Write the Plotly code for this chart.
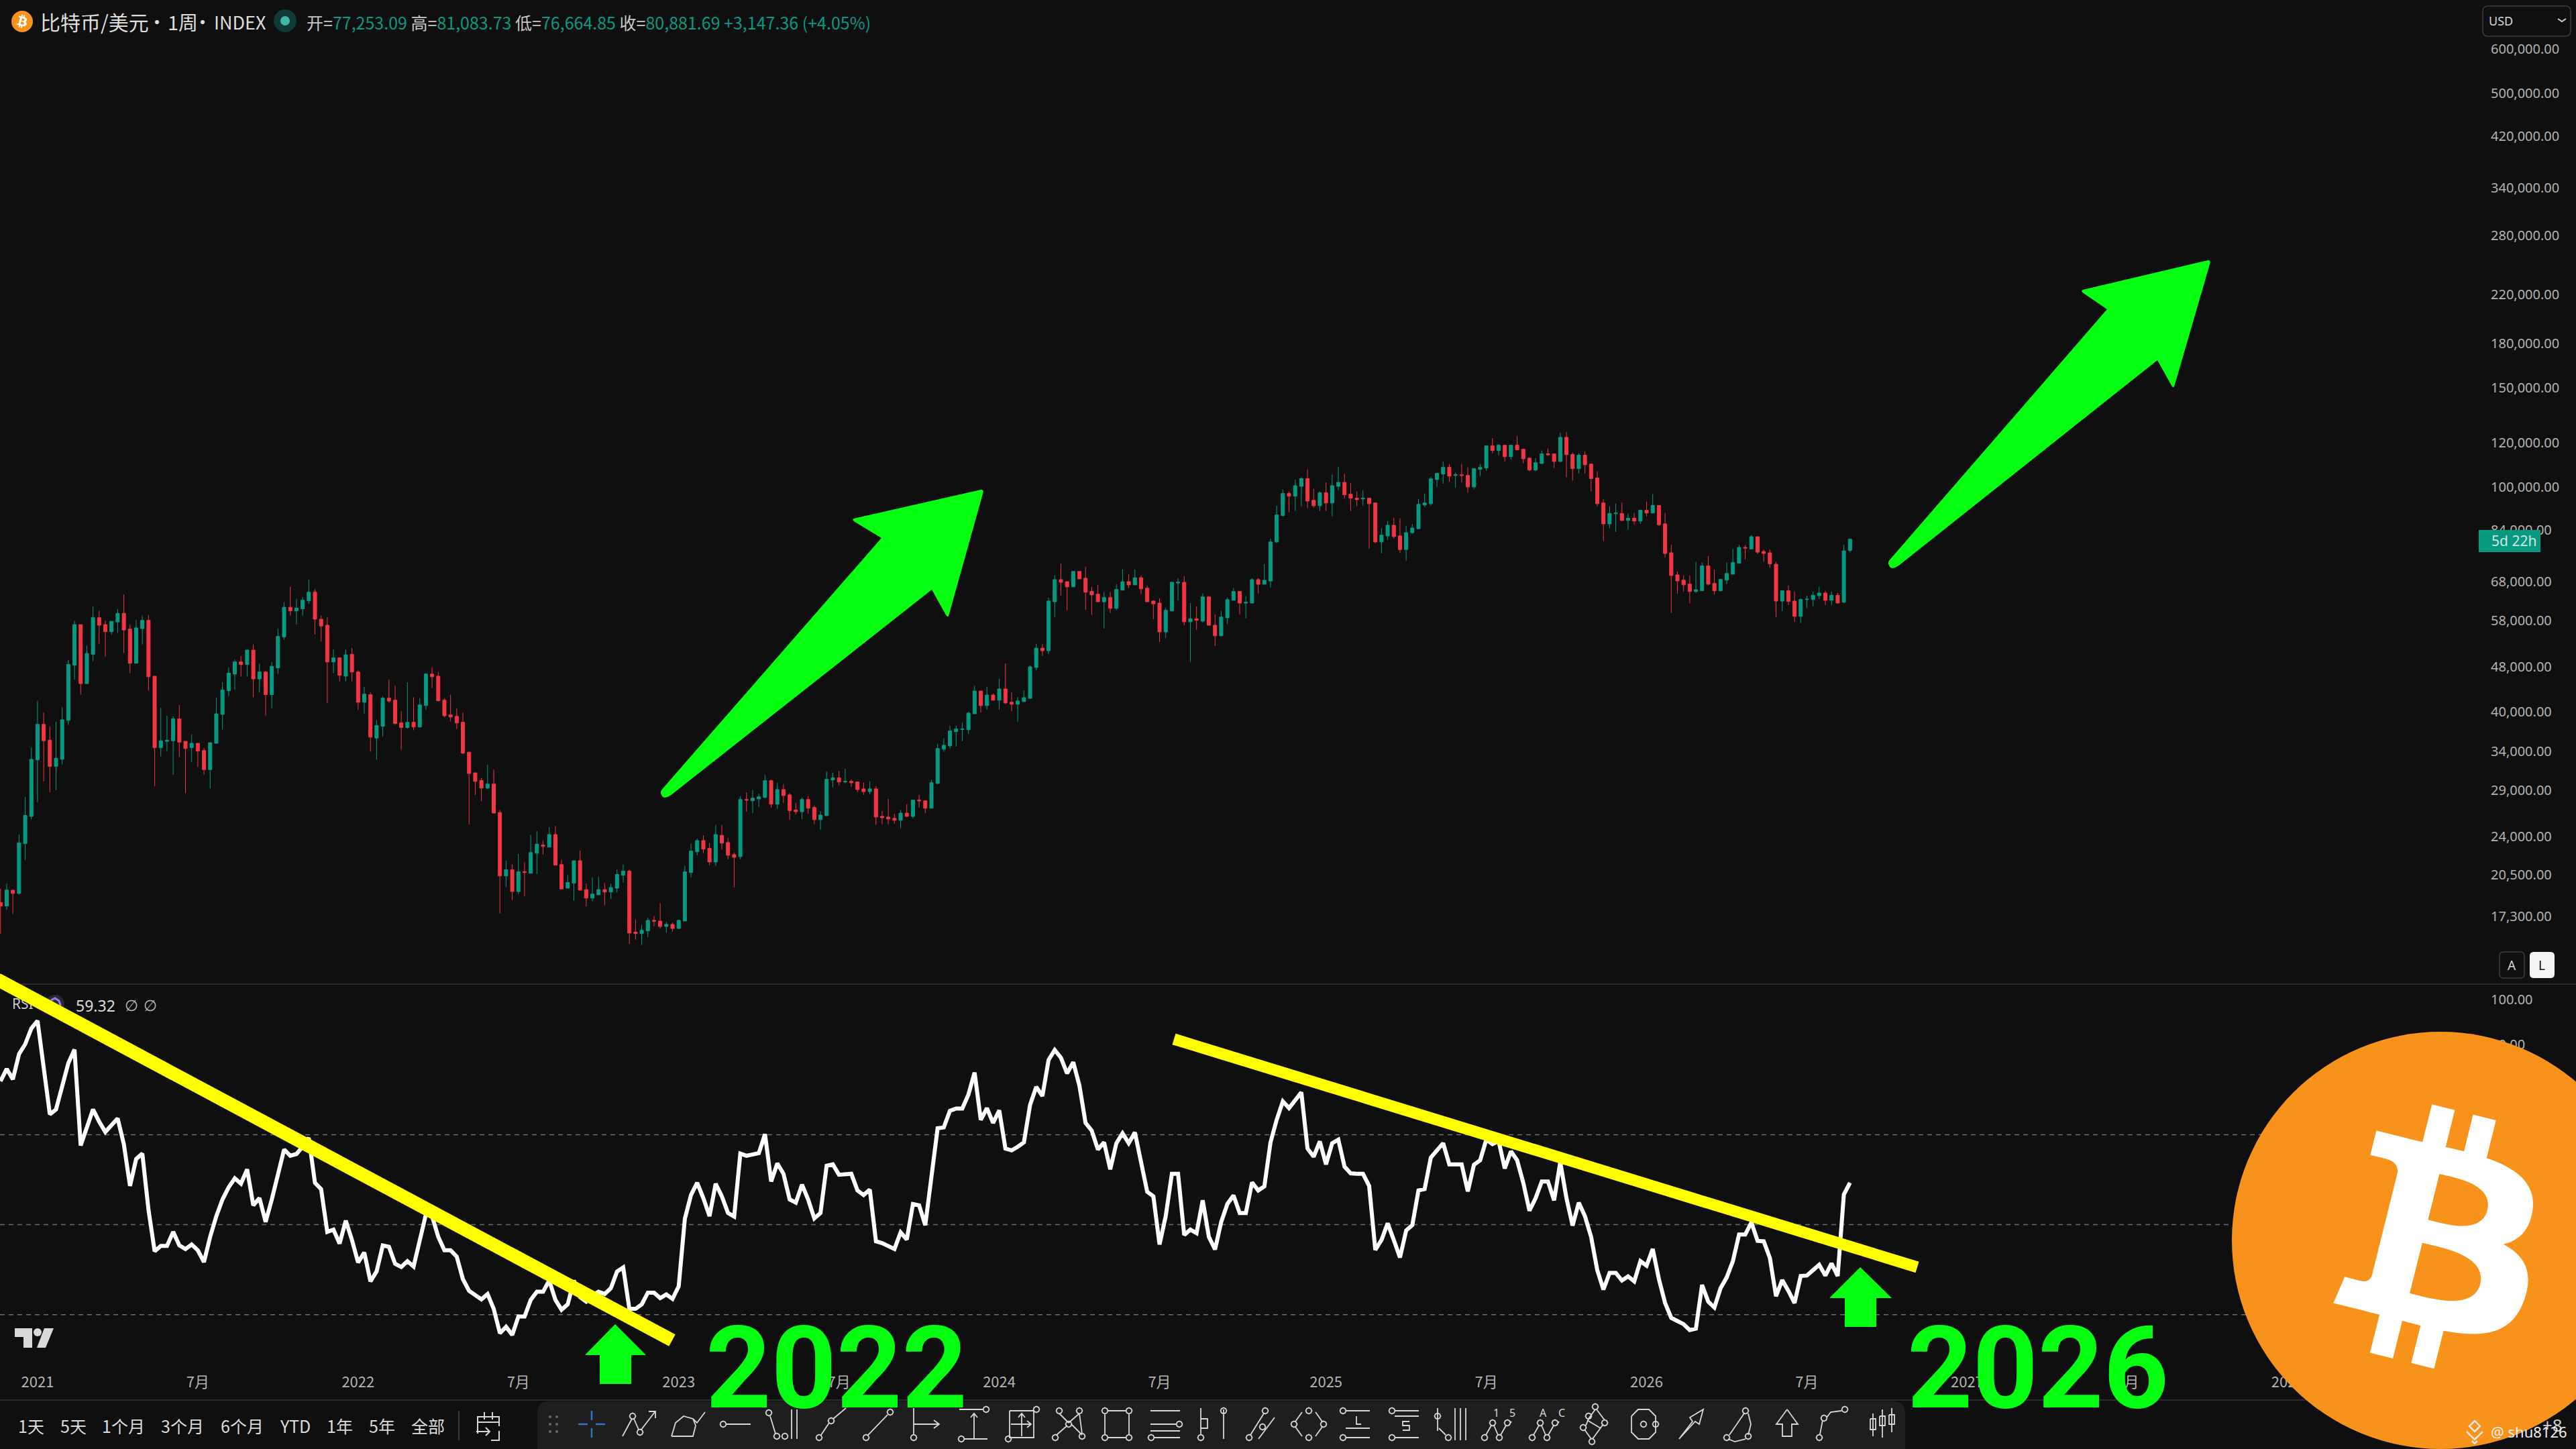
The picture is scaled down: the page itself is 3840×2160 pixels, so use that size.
import re
import pandas as pd
import plotly.graph_objects as go

W, H = 3840, 2160
BG = "#0f0f0f"
UP = "#089981"
DOWN = "#f23645"
NEON = "#05ff10"
ORANGE = "#f7931a"
CJK = "Noto Sans CJK SC"

# weekly candles, prices in thousand USD
opens_k = [18.33,18.07,19.26,19.02,23.31,26.06,32.82,37.95,35.58,31.97,
32.90,38.58,48.31,57.04,44.82,50.53,58.68,57.04,55.44,57.67,
59.69,56.02,48.71,56.14,58.04,46.21,34.50,35.41,35.49,38.81,
35.41,34.50,35.13,34.10,31.55,35.13,39.53,43.56,46.61,48.98,
48.48,51.40,45.69,47.00,42.85,47.80,54.22,61.21,60.34,60.85,
62.87,65.11,58.32,56.91,48.98,49.79,46.21,50.53,47.00,41.53,
42.85,35.89,37.64,42.24,41.89,38.18,37.46,38.27,37.55,40.98,
46.61,46.21,41.89,39.44,39.21,38.27,33.86,31.13,30.17,29.25,
29.74,26.47,20.43,20.95,19.17,20.78,20.65,22.42,23.17,22.98,
24.20,21.40,19.43,19.84,21.74,19.32,18.66,18.91,19.32,19.13,
19.43,20.50,20.83,16.24,16.14,16.32,17.04,16.99,16.62,16.76,
16.48,16.99,20.72,22.55,23.61,22.86,21.63,24.12,23.42,22.29,
22.11,27.92,27.77,27.99,28.15,30.15,27.39,29.08,28.45,26.75,
26.56,27.92,27.02,25.71,26.13,30.24,30.49,29.99,30.07,29.99,
29.16,28.83,29.16,26.06,25.99,25.85,25.64,26.41,26.06,27.85,
27.77,26.94,29.82,34.29,34.75,36.84,37.16,37.12,39.62,43.49,
40.97,42.78,41.88,43.86,41.54,41.20,41.65,42.22,47.88,51.82,
51.27,62.63,68.56,67.98,66.55,70.90,68.95,65.31,64.60,62.63,
63.70,60.96,65.66,67.98,67.09,69.10,66.20,62.81,62.28,55.38,
60.31,67.62,67.80,57.71,58.42,57.89,63.88,56.89,54.50,58.66,
62.99,65.31,62.28,62.28,68.56,67.27,68.17,79.97,89.05,97.47,
96.42,100.38,103.56,94.77,92.74,97.74,93.78,100.38,101.99,97.21,
95.60,95.33,95.60,93.78,79.96,81.96,85.60,81.96,77.52,83.07,
84.40,92.99,93.50,103.17,105.52,108.46,104.93,105.20,104.93,100.12,
107.58,108.17,118.40,116.16,118.70,113.30,118.70,116.80,112.60,107.30,
110.20,114.60,114.60,111.10,122.60,114.30,107.90,114.00,109.90,103.85,
93.80,86.10,89.80,89.80,87.30,88.10,87.10,91.00,90.00,92.80,
86.10,76.50,69.90,68.40,67.30,65.30,65.50,72.50,67.50,65.50,
68.40,70.10,73.30,78.20,77.70,81.70,76.90,76.50,73.00,62.80,
65.50,62.80,59.00,63.20,63.20,64.20,64.90,63.00,64.30,62.50,77.25309]

highs_k = [19.39,19.81,19.35,24.20,28.19,34.53,41.79,39.84,37.64,38.36,
40.73,49.39,57.97,57.04,52.36,61.50,60.34,57.97,57.82,60.78,
64.54,57.11,58.11,59.19,59.33,46.21,40.63,39.30,39.21,41.08,
35.41,36.43,35.13,34.46,35.21,42.34,45.07,47.91,49.51,50.19,
51.59,52.62,48.60,47.23,48.94,56.08,62.51,66.57,63.37,63.80,
68.53,66.00,59.19,58.83,51.59,49.91,51.53,51.85,47.35,44.21,
43.30,38.58,42.55,45.58,44.46,40.02,45.07,42.39,42.24,46.78,
47.91,47.00,42.24,42.85,40.52,39.84,34.02,31.13,30.49,32.19,
31.55,26.75,21.74,21.40,22.34,21.59,24.15,24.54,23.59,24.93,
25.05,21.82,20.50,21.74,22.67,19.81,20.33,20.38,19.84,19.81,
21.00,21.40,20.95,17.10,16.73,17.22,17.35,18.29,16.95,16.90,
17.09,21.29,23.30,23.80,24.12,23.36,25.16,25.16,23.86,22.48,
28.30,28.75,28.99,28.60,30.90,30.32,29.90,29.73,28.67,27.54,
28.15,28.30,27.24,26.63,31.31,31.15,31.40,31.65,30.32,29.99,
29.90,30.07,29.49,26.63,27.99,26.33,26.75,27.39,27.92,28.45,
27.85,30.24,35.05,35.84,37.73,37.73,38.26,39.92,44.47,43.49,
44.25,43.08,45.72,48.70,43.24,42.44,43.61,48.28,52.71,52.71,
63.70,69.73,73.25,67.98,70.90,70.90,72.27,66.55,67.09,65.13,
65.13,67.27,71.45,70.09,71.45,69.73,66.91,62.99,63.52,61.12,
67.98,68.95,69.54,62.28,61.45,64.77,64.06,59.49,60.31,63.70,
66.20,65.31,64.06,68.95,68.95,73.05,81.04,92.70,99.06,98.27,
103.17,104.15,107.58,99.30,98.27,101.99,105.32,108.76,105.62,101.70,
98.27,98.80,95.60,93.78,84.60,87.10,88.30,88.06,85.36,86.05,
95.24,97.47,104.35,106.10,111.10,109.93,106.11,109.93,108.46,107.87,
109.93,118.70,122.20,119.30,118.70,118.70,123.30,116.80,113.00,112.60,
116.20,117.10,114.60,125.00,125.40,115.20,114.90,115.80,109.90,106.70,
95.20,92.50,93.50,94.00,89.80,90.00,91.30,94.30,97.20,92.80,
90.00,79.00,70.90,69.70,69.70,73.70,73.50,75.50,71.40,68.80,
73.50,77.70,79.00,79.00,82.20,81.70,77.50,77.50,73.70,65.50,
66.90,65.30,63.50,64.20,65.30,66.60,65.50,65.30,64.90,79.00,81.08373]

lows_k = [16.14,17.78,17.50,18.93,21.82,25.75,27.60,30.06,28.75,29.00,
32.23,37.86,45.58,42.85,44.82,49.11,52.75,50.08,54.73,55.12,
50.82,46.78,48.71,52.62,43.56,29.50,33.30,34.02,30.88,33.18,
28.65,32.55,31.89,30.88,29.21,35.05,37.15,42.60,43.71,46.10,
46.15,42.39,43.20,39.35,40.52,46.61,53.65,59.19,57.04,59.19,
62.14,54.80,53.20,41.43,46.78,45.25,45.25,45.25,40.27,39.66,
33.94,32.82,36.11,41.48,37.86,34.22,37.28,37.06,37.42,40.27,
44.01,41.69,39.03,38.40,37.24,33.58,25.22,28.43,27.73,29.11,
26.41,17.52,19.52,18.51,18.97,18.82,20.65,20.60,22.31,22.98,
21.35,19.37,19.43,18.47,19.21,18.05,18.42,18.91,18.11,18.58,
19.08,19.89,15.48,15.75,15.41,15.91,16.63,16.48,16.22,16.27,
16.48,16.99,20.31,22.23,22.42,21.34,21.29,22.76,21.86,19.49,
21.86,26.56,26.41,27.09,28.07,27.00,26.87,27.54,25.71,26.26,
25.78,26.33,25.23,24.68,26.13,29.33,29.58,29.82,29.41,28.75,
28.45,28.53,25.16,25.23,25.23,25.30,24.82,25.99,25.85,27.02,
26.41,26.94,29.73,33.92,34.38,34.65,35.42,36.51,39.62,39.85,
40.30,41.88,40.30,41.20,40.07,38.36,41.65,42.10,47.33,50.18,
50.59,58.84,64.24,60.47,66.55,68.76,60.63,59.33,62.63,56.13,
59.82,60.47,65.66,66.20,67.09,64.60,62.63,58.31,53.16,54.05,
60.31,62.99,56.89,48.96,55.83,57.54,56.89,52.27,54.35,57.21,
62.99,59.49,58.50,62.28,64.77,67.27,66.38,79.70,88.80,90.28,
90.77,92.52,91.75,92.00,90.77,90.77,88.80,98.80,95.60,90.77,
92.52,92.74,77.74,79.50,76.30,80.60,81.07,76.50,74.10,82.63,
84.40,92.24,92.74,100.12,101.44,102.28,99.85,101.99,97.74,99.06,
104.64,107.00,114.90,113.90,111.10,112.00,116.20,110.20,106.70,106.70,
109.90,113.60,108.20,110.80,104.15,102.70,105.80,105.80,98.30,92.50,
80.20,84.60,83.30,87.10,84.00,85.80,86.10,88.80,89.80,85.40,
75.10,59.80,64.70,65.30,62.20,64.90,65.50,66.90,64.50,65.30,
67.30,70.10,73.30,74.50,77.70,76.10,73.70,71.90,58.80,60.30,
61.80,57.70,57.40,61.00,61.50,63.30,61.80,61.80,62.20,62.30,76.66485]

closes_k = [18.07,19.28,19.02,23.37,26.16,32.90,37.95,35.49,31.97,33.02,
38.67,48.48,57.04,44.82,50.70,58.68,56.91,55.44,57.82,59.69,
55.82,48.71,56.27,58.04,46.10,34.50,35.49,35.57,38.81,35.29,
34.38,35.13,34.02,31.55,35.21,39.62,43.66,46.78,48.98,48.48,
51.40,45.69,47.00,42.85,48.09,54.35,61.21,60.34,61.00,63.01,
65.11,58.32,56.72,48.98,49.79,46.38,50.42,47.00,41.53,42.95,
36.02,37.78,42.24,41.74,38.09,37.46,38.27,37.55,41.08,46.61,
46.10,41.79,39.30,39.12,38.18,33.74,31.05,30.06,29.25,29.74,
26.41,20.43,20.95,19.17,20.78,20.73,22.48,23.26,23.06,24.20,
21.35,19.37,19.89,21.74,19.28,18.66,18.97,19.32,19.13,19.48,
20.55,20.83,16.18,16.14,16.36,17.04,16.98,16.62,16.76,16.48,
17.04,20.77,22.61,23.61,22.80,21.63,24.19,23.36,22.23,22.05,
27.92,27.85,28.07,28.23,30.15,27.39,29.08,28.38,26.68,26.56,
27.92,26.94,25.71,26.20,30.32,30.49,29.99,30.07,29.90,29.08,
28.83,29.16,25.99,25.92,25.78,25.64,26.41,26.06,27.85,27.77,
26.94,29.90,34.38,34.85,36.94,37.24,37.23,39.74,43.49,40.97,
42.78,41.88,43.86,41.43,41.20,41.76,42.33,48.01,51.82,51.27,
62.81,68.56,67.80,66.55,70.90,68.76,65.13,64.42,62.63,63.70,
60.96,65.84,67.98,67.09,69.10,66.02,62.63,62.10,55.38,60.47,
67.80,67.80,57.71,58.42,58.07,63.88,56.89,54.50,58.84,63.17,
65.31,62.28,62.46,68.56,67.27,68.37,79.97,89.29,97.47,96.42,
100.64,103.56,94.49,92.74,97.74,93.78,100.64,101.99,96.95,95.60,
95.06,95.60,93.50,79.96,82.20,85.60,81.74,77.52,83.07,84.63,
93.25,93.78,103.46,105.82,108.46,104.64,105.20,104.93,100.12,107.87,
108.46,118.40,116.16,118.70,113.30,118.70,116.50,112.30,107.30,110.50,
114.60,114.20,111.10,122.60,114.30,107.90,114.00,109.60,103.60,93.50,
86.10,89.80,90.00,87.30,88.10,87.10,91.00,90.00,92.80,85.80,
76.30,69.70,68.20,67.10,65.30,65.80,72.50,67.30,65.50,68.60,
70.30,73.50,78.20,78.00,81.70,76.70,76.30,73.10,62.80,65.50,
62.70,59.00,63.20,63.30,64.30,64.90,63.00,64.30,62.30,77.10,80.88169]

rsi_values = [81.9,84.6,82.3,87.9,90.1,93.6,95.3,85.3,74.5,75.6,
80.6,85.9,88.9,67.6,71.6,75.6,72.9,70.6,72.1,73.6,
67.9,58.6,64.6,65.8,53.3,44.1,45.3,45.3,48.4,45.4,
44.6,45.6,44.3,41.7,47.3,51.9,55.6,58.3,60.3,59.1,
62.3,54.3,55.9,50.6,55.6,61.3,66.7,65.3,65.7,67.3,
69.3,59.3,57.9,48.4,48.9,45.8,50.9,46.6,41.6,43.8,
37.4,39.6,45.4,45.1,41.3,40.6,41.9,40.7,46.3,52.3,
51.9,47.3,44.3,44.3,42.9,37.9,35.3,34.3,33.4,34.6,
31.3,25.9,27.3,25.5,29.6,29.6,33.3,35.1,35.1,37.6,
33.3,31.1,32.3,37.6,33.9,32.9,34.3,35.1,34.6,35.9,
39.6,40.5,31.3,31.3,32.3,34.9,34.9,33.7,34.5,33.5,
36.3,51.3,56.6,59.3,55.9,51.9,59.1,56.3,52.6,51.8,
65.8,65.3,65.6,65.9,70.1,59.6,63.6,61.3,55.6,54.9,
58.9,55.6,51.4,52.6,63.1,63.4,61.1,61.3,61.3,57.6,
56.6,57.8,46.3,45.9,45.3,44.6,48.3,46.7,54.6,54.3,
49.9,60.6,71.4,71.6,75.3,75.8,75.8,78.9,83.8,73.3,
75.9,72.6,75.4,66.9,66.5,67.3,68.3,76.6,80.6,78.6,
86.6,88.8,87.1,83.6,86.1,80.9,72.6,70.9,66.7,68.3,
62.3,68.1,70.3,68.1,70.5,63.9,57.3,56.3,45.6,51.9,
61.3,61.3,47.7,48.9,48.1,55.4,47.3,44.5,50.6,54.6,
56.5,52.6,52.6,59.4,57.6,58.5,68.3,73.3,77.4,75.9,
77.6,79.4,66.9,65.1,68.5,63.4,68.1,68.9,62.9,61.4,
61.3,61.3,58.6,44.4,46.6,50.3,46.6,42.7,48.7,49.9,
57.6,57.9,64.9,66.6,68.1,63.4,63.4,63.4,57.4,63.3,
64.3,68.9,67.9,68.6,62.5,66.3,64.3,59.3,53.1,55.9,
59.6,59.6,55.4,63.9,55.9,49.8,54.9,51.9,47.3,39.9,
35.6,39.3,39.3,37.6,38.5,37.4,41.9,40.9,44.6,37.9,
32.6,29.3,28.6,27.9,26.6,26.9,36.6,32.9,31.6,35.9,
38.3,41.9,47.8,47.8,50.5,46.4,46.3,42.6,34.1,37.7,
35.3,32.6,38.6,38.7,39.9,41.1,38.7,41.4,38.6,56.7,59.32]

price_ticks = [600000,500000,420000,340000,280000,220000,180000,150000,120000,100000,
               84000,68000,58000,48000,40000,34000,29000,24000,20500,17300]
rsi_ticks = [100,90,80,70,60,50,40,30,20]
rsi_levels = [70,50,30]
time_ticks = ["2021-01-04","2021-07-05","2022-01-03","2022-07-04","2023-01-02","2023-07-03",
              "2024-01-01","2024-07-01","2025-01-06","2025-07-07","2026-01-05","2026-07-06",
              "2027-01-04","2027-07-05","2028-01-03","2028-07-03"]
time_labels = ["2021","7月","2022","7月","2023","7月","2024","7月","2025","7月","2026","7月",
               "2027","7月","2028","7月"]

first_week = pd.Timestamp("2020-11-23")
weeks = pd.date_range(first_week, periods=len(closes_k), freq="7D")

# pixel helpers, chart is laid out like the screenshot
PANE_R = 3700
STEP = 9.19
def px(x):
    return x / W
def py(y):
    return 1 - y / H
def pt(x, y):
    return f"{px(x):.5f},{py(y):.5f}"
def week_at(x):
    return first_week + pd.Timedelta(days=(x - 0.8) / STEP * 7)

def note(text, x, y, size=22, color="#d4d4d4", anchor="left", family=CJK, opacity=1):
    return dict(xref="paper", yref="paper", x=px(x), y=py(y), text=text, showarrow=False,
                xanchor=anchor, yanchor="middle", opacity=opacity,
                font=dict(size=size, color=color, family=family))

def poly(points, closed=False):
    d = "M" + " L".join(pt(x, y) for x, y in points)
    return d + (" Z" if closed else "")

def ring(x, y, r=4.5):
    k = r * 0.7
    return poly([(x-r,y),(x-k,y-k),(x,y-r),(x+k,y-k),(x+r,y),(x+k,y+k),(x,y+r),(x-k,y+k)], True)

def rounded(points):
    # points are (x, y, corner size)
    out = []
    n = len(points)
    for i, (x, y, r) in enumerate(points):
        ax, ay, _ = points[i - 1]
        bx, by, _ = points[(i + 1) % n]
        la = ((ax-x)**2 + (ay-y)**2) ** 0.5
        lb = ((bx-x)**2 + (by-y)**2) ** 0.5
        p0 = (x + (ax-x)*r/la, y + (ay-y)*r/la)
        p1 = (x + (bx-x)*r/lb, y + (by-y)*r/lb)
        out.append(("M" if i == 0 else "L") + pt(*p0))
        out.append("Q" + pt(x, y) + " " + pt(*p1))
    return " ".join(out) + " Z"

BTC_D = ("M2947.77 1754.38c40.72,-272.26 -166.56,-418.61 -450,-516.24l91.95 -368.8 -224.5 -55.94 -89.51 359.09"
"c-59.02,-14.72 -119.63,-28.59 -179.87,-42.34l90.16 -361.46 -224.36 -55.94 -92 368.68c-48.84,-11.12 -96.81,-22.11 -143.35,-33.69"
"l0.26 -1.16 -309.59 -77.31 -59.72 239.78c0,0 166.56,38.18 163.05,40.53 90.91,22.69 107.35,82.87 104.62,130.57"
"l-104.74 420.15c6.26,1.59 14.38,3.89 23.34,7.49 -7.49,-1.86 -15.46,-3.89 -23.73,-5.87l-146.81 588.57"
"c-11.11,27.62 -39.31,69.07 -102.87,53.33 2.25,3.26 -163.17,-40.72 -163.17,-40.72l-111.46 256.98 292.15 72.83"
"c54.35,13.63 107.61,27.89 160.06,41.3l-92.9 373.03 224.24 55.94 92 -369.07c61.26,16.63 120.71,31.97 178.91,46.43"
"l-91.69 367.33 224.51 55.94 92.89 -372.33c382.82,72.45 670.67,43.24 791.83,-303.02 97.63,-278.78 -4.86,-439.58 -206.26,-544.44"
" 146.69,-33.83 257.18,-130.31 286.64,-329.61l-0.07 -0.05z"
"m-512.93 719.26c-69.38,278.78 -538.76,128.08 -690.94,90.29l123.28 -494.2c152.17,37.99 640.17,113.17 567.66,403.91z"
"m69.43 -723.3c-63.29,253.58 -453.96,124.75 -580.69,93.16l111.77 -448.21c126.73,31.59 534.85,90.55 468.92,355.05z")

def btc_mark(cx, cy, radius):
    s = radius / 2045.0
    def at(x, y):
        return pt(cx + (x - 2045.6) * s, cy + (y - 2045.9) * s)
    toks = re.findall(r"[a-zA-Z]|-?\d*\.?\d+", BTC_D)
    out, i, cmd = [], 0, None
    cur = start = (0.0, 0.0)
    while i < len(toks):
        if toks[i].isalpha():
            cmd = toks[i]
            i += 1
            if cmd == "z":
                out.append("Z")
                cur = start
            continue
        if cmd == "M" or cmd == "m":
            dx, dy = float(toks[i]), float(toks[i+1])
            cur = (dx, dy) if cmd == "M" else (cur[0]+dx, cur[1]+dy)
            start = cur
            out.append("M" + at(*cur))
            i += 2
        elif cmd == "l":
            cur = (cur[0]+float(toks[i]), cur[1]+float(toks[i+1]))
            out.append("L" + at(*cur))
            i += 2
        elif cmd == "c":
            v = [float(t) for t in toks[i:i+6]]
            a = at(cur[0]+v[0], cur[1]+v[1])
            b = at(cur[0]+v[2], cur[1]+v[3])
            cur = (cur[0]+v[4], cur[1]+v[5])
            out.append("C" + a + " " + b + " " + at(*cur))
            i += 6
    return " ".join(out)

def circle(cx, cy, r, color):
    return dict(type="circle", xref="paper", yref="paper", x0=px(cx-r), x1=px(cx+r), y0=py(cy+r), y1=py(cy-r),
                fillcolor=color, line=dict(width=0))

def box(x0, y0, x1, y1, fill, line=None, r=6):
    d = rounded([(x0,y0,r),(x1,y0,r),(x1,y1,r),(x0,y1,r)])
    return dict(type="path", xref="paper", yref="paper", path=d, fillcolor=fill,
                line=dict(width=1.5 if line else 0, color=line or fill))

def solid(d, color):
    return dict(type="path", xref="paper", yref="paper", path=d, fillcolor=color, line=dict(width=0))

def stroke(d, color, width=1.6):
    return dict(type="path", xref="paper", yref="paper", path=d, line=dict(width=width, color=color))

def hline(x0, x1, y, color, width=2):
    return dict(type="line", xref="paper", yref="paper", x0=px(x0), x1=px(x1), y0=py(y), y1=py(y),
                line=dict(width=width, color=color))

# toolbar icons: centre x, polylines and small rings relative to the centre
tool_icons = [
    (954, [[(-26,18),(-12,-8)],[(-9,-8),(-2,8)],[(2,8),(22,-18)],[(13,-19),(23,-19),(23,-9)]], [(-11,-12),(0,12)]),
    (1025, [[(-24,18),(8,18),(12,2),(8,-8),(-6,-12),(-18,-2),(-24,18)],[(8,-8),(14,-2),(26,-18)]], []),
    (1097, [[(-14,0),(22,0)]], [(-19,0)]),
    (1164, [[(16,-22),(16,22)],[(24,-22),(24,22)],[(-16,-12),(-8,14)]], [(-18,-17),(-6,18),(6,18)]),
    (1239, [[(-15,16),(-3,-2)],[(3,-8),(22,-24)]], [(-18,20),(0,-5)]),
    (1309, [[(-15,16),(14,-14)]], [(-18,20),(18,-18)]),
    (1380, [[(-18,-24),(-18,15)],[(-18,0),(20,0)],[(12,-6),(20,0),(12,6)]], [(-18,20)]),
    (1452, [[(-22,-22),(14,-22)],[(-14,22),(20,22)],[(0,22),(0,-16)],[(-5,-10),(0,-16),(5,-10)]], [(18,-22),(-19,22)]),
    (1523, [[(-18,-20),(18,-20),(18,20),(-18,20),(-18,-20)],[(-16,0),(14,0)],[(8,-5),(14,0),(8,5)],[(0,18),(0,-16)],[(-5,-10),(0,-16),(5,-10)]], [(22,-22),(-20,22)]),
    (1595, [[(-16,-16),(-2,-2)],[(-2,-2),(14,-16)],[(-4,2),(-20,16)],[(2,0),(18,16)],[(14,-16),(18,14)]], [(-16,-20),(14,-20),(-22,20),(18,18),(-2,0)]),
    (1665, [[(-14,-20),(14,-20)],[(-14,20),(14,20)],[(-18,-16),(-18,16)],[(18,-16),(18,16)]], [(-18,-20),(18,-20),(-18,20),(18,20)]),
    (1737, [[(-22,-20),(22,-20)],[(-22,0),(16,0)],[(-16,20),(22,20)],[(-22,10),(22,10)]], [(21,0),(-21,20)]),
    (1806, [[(-16,-24),(-16,16)],[(-16,-8),(-6,-8),(-6,6),(-16,6)],[(18,-22),(18,22)]], [(-16,20),(18,-20)]),
    (1880, [[(-16,16),(4,-16)],[(-4,22),(20,-10)]], [(-18,20),(6,-20),(2,4)]),
    (1951, [[(-20,-4),(-10,-18)],[(10,-18),(20,-4)],[(20,4),(10,18)],[(-10,18),(-20,4)]], [(0,-20),(-22,0),(22,0),(0,20)]),
    (2022, [[(-16,-20),(20,-20)],[(-16,20),(20,20)],[(-16,6),(20,6)],[(0,-12),(0,0),(7,0)]], [(-20,-20),(-20,20)]),
    (2095, [[(-16,-20),(20,-20)],[(-16,20),(20,20)],[(-16,-12),(20,-12)],[(6,-4),(-4,-4),(-4,2),(6,2),(6,9),(-4,9)]], [(-20,-20),(-20,20)]),
    (2165, [[(-22,-24),(-22,10)],[(-20,6),(-10,16)],[(4,-24),(4,24)],[(12,-24),(12,24)],[(20,-24),(20,24)]], [(-22,-12),(-6,20)]),
    (2235, [[(-20,16),(-12,2)],[(-8,2),(-2,16)],[(2,16),(10,2)],[(14,2),(18,-4)]], [(-22,20),(-10,-2),(0,20),(12,-2)]),
    (2306, [[(-20,16),(-12,2)],[(-8,2),(-2,16)],[(2,16),(10,2)],[(14,2),(18,-4)]], [(-22,20),(-10,-2),(0,20),(12,-2)]),
    (2378, [[(0,-22),(-10,-8),(-14,2)],[(2,-22),(14,-6)],[(12,0),(-4,22)],[(-16,8),(-6,22)],[(-12,-6),(8,6)]], [(0,-26),(-10,-12),(14,-2),(-18,5),(-5,26)]),
    (2450, [[(-18,-12),(-8,-22),(8,-22),(18,-12),(18,12),(8,22),(-8,22),(-18,12),(-18,-12)]], [(0,0),(18,0)]),
    (2521, [[(-18,22),(2,-4),(-2,-10),(18,-22),(12,0),(6,-4),(-18,22)]], []),
    (2592, [[(-14,16),(8,-16)],[(14,-16),(18,0),(14,16)],[(-16,22),(-6,26),(10,22)]], [(10,-20),(-18,20),(14,18)]),
    (2664, [[(0,-22),(-16,0),(-7,0),(-7,18),(7,18),(7,0),(16,0),(0,-22)]], []),
    (2735, [[(-22,15),(-18,-6)],[(-12,-10),(-6,-18),(10,-20)]], [(-23,20),(-16,-9),(15,-22)]),
    (2806, [[(-14,-16),(-14,18)],[(-18,-8),(-10,-8),(-10,8),(-18,8),(-18,-8)],[(0,-22),(0,20)],[(-4,-12),(4,-12),(4,2),(-4,2),(-4,-12)],[(14,-24),(14,12)],[(10,-14),(18,-14),(18,0),(10,0),(10,-14)]], []),
]
icon_y = 2123

shapes = []
# RSI levels
for level in rsi_levels:
    shapes.append(dict(type="line", xref="paper", yref="y2", x0=0, x1=px(PANE_R), y0=level, y1=level, layer="below",
                       line=dict(width=1.5, color="#6e6e6e", dash="7px,6px")))
# pane dividers
shapes.append(hline(0, W, 1467, "#2b2b2b", 2))
shapes.append(hline(0, W, 2087, "#2b2b2b", 2))
# RSI legend icon, under the trend line
shapes.append(circle(82, 1497, 14, "#2a2a2e"))
shapes.append(stroke(poly([(76,1491),(82,1488),(88,1492),(90,1498),(86,1504)]), "#9d7cf0", 3))
# header marks
shapes.append(circle(33, 32, 16, ORANGE))
shapes.append(solid(btc_mark(33, 32, 16), "#ffffff"))
shapes.append(circle(425, 31, 17, "#0f3a37"))
shapes.append(circle(425, 31, 7, "#3fb8a8"))
# price axis controls
shapes.append(box(3701, 9, 3832, 54, BG, "#3c3c3c", 8))
shapes.append(stroke(poly([(3813,28),(3819,32),(3825,28)]), "#d0d0d0", 2))
shapes.append(dict(type="rect", xref="paper", yref="paper", x0=px(3695), x1=px(3787), y0=py(823), y1=py(790),
                   fillcolor=UP, line=dict(width=0)))
shapes.append(box(3726, 1419, 3763, 1458, BG, "#3c3c3c", 6))
shapes.append(box(3771, 1419, 3808, 1458, "#f4f4f4", None, 6))
# TradingView mark
shapes.append(solid(poly([(22,1980),(48,1980),(48,2009),(35,2009),(35,1993),(22,1993)], True), "#d9d9d9"))
shapes.append(circle(56, 1986, 6, "#d9d9d9"))
shapes.append(solid(poly([(66,1980),(80,1980),(68,2009),(55,2009)], True), "#d9d9d9"))
# bottom toolbar
shapes.append(box(801, 2089, 2840, 2190, "#1e1e1e", None, 18))
shapes.append(hline(684, 684, 2103, "#3a3a3a", 2) | dict(y1=py(2147)))
shapes.append(stroke(" ".join([
    poly([(712,2137),(712,2112),(744,2112),(744,2126)]),
    poly([(712,2120),(744,2120)]),
    poly([(722,2105),(722,2116)]),
    poly([(734,2105),(734,2116)]),
    poly([(710,2134),(730,2134)]),
    poly([(724,2128),(730,2134),(724,2140)]),
    poly([(744,2133),(744,2147),(732,2147)]),
]), "#d8d8d8", 2))
for dot_x in (820, 830):
    for dot_y in (2112, 2123, 2134):
        shapes.append(circle(dot_x, dot_y, 2, "#6a6a6a"))
shapes.append(stroke(" ".join([
    poly([(882,2103),(882,2117)]), poly([(882,2129),(882,2143)]),
    poly([(862,2123),(876,2123)]), poly([(888,2123),(902,2123)]),
]), "#2f74c8", 2.5))
icon_parts = []
for cx, lines, rings in tool_icons:
    for line in lines:
        icon_parts.append(poly([(cx+a, icon_y+b) for a, b in line]))
    for a, b in rings:
        icon_parts.append(ring(cx+a, icon_y+b))
shapes.append(stroke(" ".join(icon_parts), "#d8d8d8", 1.8))
# yellow trend lines
shapes.append(dict(type="line", xref="paper", yref="paper", x0=px(-4), y0=py(1460), x1=px(1002), y1=py(1998),
                   line=dict(width=20, color="#ffff00")))
shapes.append(dict(type="line", xref="paper", yref="paper", x0=px(1750), y0=py(1549), x1=px(2858), y1=py(1889),
                   line=dict(width=17, color="#ffff00")))
# big green arrows
shapes.append(solid(rounded([(984,1180,4),(988,1190,5),(998,1187,4),(1389,879,0.1),(1413,922,6),(1467,729,6),
                             (1268,774,7),(1314,802,0.1)]), NEON))
shapes.append(solid(rounded([(2814,838,4),(2818,848,5),(2828,845,4),(3216,537,0.1),(3240,580,6),(3296,387,6),
                             (3100,433,7),(3141,461,0.1)]), NEON))
# small up arrows
shapes.append(solid(poly([(917,1974),(963,2020),(941,2020),(941,2063),(894,2063),(894,2020),(872,2020)], True), NEON))
shapes.append(solid(poly([(2773,1889),(2820,1935),(2797,1935),(2797,1978),(2750,1978),(2750,1935),(2727,1935)], True), NEON))
# bitcoin coin
shapes.append(circle(3638, 1849, 311, ORANGE))
shapes.append(solid(btc_mark(3638, 1849, 311), "#ffffff"))
# watermark diamond
shapes.append(stroke(" ".join([
    poly([(3689,2118),(3697,2126),(3689,2134),(3681,2126)], True),
    poly([(3677,2134),(3689,2146),(3701,2134)]),
    poly([(3685,2148),(3689,2152),(3693,2148)]),
]), "#e8e8e8", 2.5))

header_values = ('<span style="color:#c8c8c8">开=</span>77,253.09 <span style="color:#c8c8c8">高=</span>81,083.73 '
                 '<span style="color:#c8c8c8">低=</span>76,664.85 <span style="color:#c8c8c8">收=</span>80,881.69 '
                 '+3,147.36 (+4.05%)')
annotations = [
    note("比特币/美元", 58, 32, 30, "#dedede"),
    note("·", 234, 32, 28, "#dedede", "center"),
    note("1周", 248, 32, 29, "#dedede"),
    note("·", 302, 32, 28, "#dedede", "center"),
    note("INDEX", 317, 32, 27, "#dedede"),
    note(header_values, 455, 33, 25, UP),
    note("USD", 3708, 31, 18, "#d8d8d8", family="Noto Sans"),
    note("5d 22h", 3712, 806, 21, "#d0e8e2", family="Noto Sans"),
    note("A", 3744, 1439, 19, "#d8d8d8", "center", "Noto Sans"),
    note("L", 3789, 1439, 19, "#111111", "center", "Noto Sans"),
    note("59.32", 111, 1499, 23, "#dcdcdc", family="Noto Sans"),
    note("∅", 184, 1499, 23, "#bbbbbb", family="DejaVu Sans"),
    note("∅", 212, 1499, 23, "#bbbbbb", family="DejaVu Sans"),
    note("1", 2230, 2106, 16, "#d8d8d8", "center", "Noto Sans"),
    note("5", 2254, 2106, 16, "#d8d8d8", "center", "Noto Sans"),
    note("A", 2300, 2106, 16, "#d8d8d8", "center", "Noto Sans"),
    note("C", 2328, 2106, 16, "#d8d8d8", "center", "Noto Sans"),
    note("<b>2022</b>", 1050, 2040, 170, NEON, family="Roboto"),
    note("<b>2026</b>", 2841, 2040, 170, NEON, family="Roboto"),
    note("+8", 3805, 2124, 26, "#cfcfcf", "center", "Noto Sans"),
    note("@ shu8126", 3711, 2134, 22, "#f0f0f0", family="Noto Sans"),
]
range_labels = ["1天","5天","1个月","3个月","6个月","YTD","1年","5年","全部"]
range_x = [46,109,184,272,361,440,506,569,638]
for text, x in zip(range_labels, range_x):
    annotations.append(note(text, x, 2125, 25, "#dcdcdc", "center"))

fig = go.Figure()
fig.add_trace(go.Candlestick(
    x=weeks,
    open=[v * 1000 for v in opens_k],
    high=[v * 1000 for v in highs_k],
    low=[v * 1000 for v in lows_k],
    close=[v * 1000 for v in closes_k],
    xaxis="x", yaxis="y",
    increasing=dict(line=dict(color=UP, width=1), fillcolor=UP),
    decreasing=dict(line=dict(color=DOWN, width=1), fillcolor=DOWN),
    whiskerwidth=0,
))
fig.add_trace(go.Scatter(x=weeks, y=rsi_values, mode="lines", xaxis="x2", yaxis="y2",
                         line=dict(color="#ffffff", width=6)))
# RSI name goes in a trace so the yellow line can run over it
fig.add_trace(go.Scatter(x=[week_at(18)], y=[98.7], mode="text", text=["RSI"], textposition="middle right",
                         xaxis="x2", yaxis="y2", cliponaxis=False,
                         textfont=dict(size=21, color="#c8c8c8", family="Noto Sans")))

x_range = [week_at(0), week_at(PANE_R)]
tick_font = dict(size=20, color="#b4b4b4", family="Noto Sans")
fig.update_layout(
    width=W, height=H,
    margin=dict(l=0, r=0, t=0, b=0),
    autosize=False,
    paper_bgcolor=BG, plot_bgcolor=BG,
    showlegend=False,
    boxgap=0.22,
    xaxis=dict(domain=[0, px(PANE_R)], range=x_range, anchor="y", type="date",
               rangeslider=dict(visible=False), showticklabels=False, showgrid=False, zeroline=False, ticks=""),
    yaxis=dict(domain=[py(1467), 1], type="log", range=[4.1183, 5.8645], side="right", anchor="x",
               tickmode="array", tickvals=price_ticks, ticktext=[f"{v:,.2f}" for v in price_ticks],
               tickfont=tick_font, ticks="outside", ticklen=8, tickcolor=BG,
               showgrid=False, zeroline=False),
    xaxis2=dict(domain=[0, px(PANE_R)], range=x_range, anchor="y2", type="date",
                tickmode="array", tickvals=time_ticks, ticktext=time_labels,
                tickfont=dict(size=22, color="#b4b4b4", family=CJK),
                ticks="outside", ticklen=1, tickcolor=BG, showgrid=False, zeroline=False),
    yaxis2=dict(domain=[py(2040), py(1467)], range=[18.05, 103.44], side="right", anchor="x2",
                tickmode="array", tickvals=rsi_ticks, ticktext=[f"{v:.2f}" for v in rsi_ticks],
                tickfont=tick_font, ticks="outside", ticklen=8, tickcolor=BG,
                showgrid=False, zeroline=False),
    shapes=shapes,
    annotations=annotations,
)

# page margin off so the figure fills the window
fig.write_html("out.html", config={"displayModeBar": False},
               post_script="document.body.style.margin='0';document.body.style.background='#0f0f0f';")
